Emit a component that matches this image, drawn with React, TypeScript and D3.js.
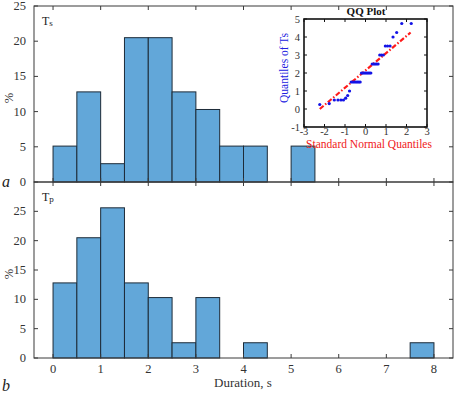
import React from "react"
import * as d3 from "d3"

// histogram bins (left edges, width 0.5 s)
const binStarts = [0, 0.5, 1, 1.5, 2, 2.5, 3, 3.5, 4, 4.5, 5, 5.5, 6, 6.5, 7, 7.5]
const binWidth = 0.5
const tsPercent = [5.1, 12.8, 2.6, 20.5, 20.5, 12.8, 10.3, 5.1, 5.1, 0, 5.1, 0, 0, 0, 0, 0]
const tpPercent = [12.8, 20.5, 25.6, 12.8, 10.3, 2.6, 10.3, 0, 2.6, 0, 0, 0, 0, 0, 0, 2.6]
const xTicks = [0, 1, 2, 3, 4, 5, 6, 7, 8]
const yTicks = [0, 5, 10, 15, 20, 25]

// sorted Ts sample
const tsSample = [
	0.25, 0.3, 0.5, 0.5, 0.5, 0.5, 0.6, 0.75, 1.0, 1.5, 1.5, 1.5, 1.5, 1.5, 1.5,
	1.5, 2.0, 2.0, 2.0, 2.0, 2.0, 2.0, 2.0, 2.0, 2.5, 2.5, 2.5, 2.5, 2.5, 3.0,
	3.0, 3.0, 3.5, 3.5, 3.5, 4.0, 4.25, 4.75, 4.75,
]
const qqRefLine: [number, number][] = [
	[-2.23, 0.0],
	[2.2, 4.25],
]
const qqXTicks = [-3, -2, -1, 0, 1, 2, 3]
const qqYTicks = [-1, 0, 1, 2, 3, 4, 5]

const FONT = "'Liberation Serif', 'Times New Roman', serif"
const AXIS = "#3a3a3a"
const BAR = "#62a7d9"

// inverse normal cdf (Acklam approximation)
function normInv(p: number) {
	const a = [-39.69683028665376, 220.9460984245205, -275.9285104469687, 138.357751867269, -30.66479806614716, 2.506628277459239]
	const b = [-54.47609879822406, 161.5858368580409, -155.6989798598866, 66.80131188771972, -13.28068155288572]
	const c = [-0.007784894002430293, -0.3223964580411365, -2.400758277161838, -2.549732539343734, 4.374664141464968, 2.938163982698783]
	const d = [0.007784695709041462, 0.3224671290700398, 2.445134137142996, 3.754408661907416]
	const pl = 0.02425
	if (p < pl) {
		const q = Math.sqrt(-2 * Math.log(p))
		return (((((c[0] * q + c[1]) * q + c[2]) * q + c[3]) * q + c[4]) * q + c[5]) / ((((d[0] * q + d[1]) * q + d[2]) * q + d[3]) * q + 1)
	}
	if (p > 1 - pl) {
		const q = Math.sqrt(-2 * Math.log(1 - p))
		return -(((((c[0] * q + c[1]) * q + c[2]) * q + c[3]) * q + c[4]) * q + c[5]) / ((((d[0] * q + d[1]) * q + d[2]) * q + d[3]) * q + 1)
	}
	const q = p - 0.5
	const r = q * q
	return ((((((a[0] * r + a[1]) * r + a[2]) * r + a[3]) * r + a[4]) * r + a[5]) * q) / (((((b[0] * r + b[1]) * r + b[2]) * r + b[3]) * r + b[4]) * r + 1)
}

const left = 34
const right = 453
const x = d3.scaleLinear().domain([-0.4, 8.4]).range([left, right])

function Panel({ top, bottom, yMax, values, name, sub, showLabels }: any) {
	const y = d3.scaleLinear().domain([0, yMax]).range([bottom, top])
	const tk = 4
	return (
		<g>
			{binStarts.map((b, i) =>
				values[i] > 0 ? (
					<rect
						key={i}
						x={x(b)}
						y={y(values[i])}
						width={x(b + binWidth) - x(b)}
						height={y(0) - y(values[i])}
						fill={BAR}
						stroke="#1d2b38"
						strokeWidth={1}
					/>
				) : null
			)}
			<rect x={left} y={top} width={right - left} height={bottom - top} fill="none" stroke={AXIS} strokeWidth={1} />
			{xTicks.map((t) => (
				<g key={"x" + t}>
					<line x1={x(t)} x2={x(t)} y1={bottom} y2={bottom - tk} stroke={AXIS} />
					<line x1={x(t)} x2={x(t)} y1={top} y2={top + tk} stroke={AXIS} />
					{showLabels && (
						<text x={x(t)} y={373} textAnchor="middle" fontSize={12.5} fill="#333">
							{t}
						</text>
					)}
				</g>
			))}
			{yTicks.map((t) => (
				<g key={"y" + t}>
					<line x1={left} x2={left + tk} y1={y(t)} y2={y(t)} stroke={AXIS} />
					<line x1={right} x2={right - tk} y1={y(t)} y2={y(t)} stroke={AXIS} />
					<text x={26} y={y(t) + 4} textAnchor="end" fontSize={12.5} fill="#333">
						{t}
					</text>
				</g>
			))}
			<text x={42} y={top + 19} fontSize={12} fill="#222">
				{name}
				<tspan fontSize={9} dy={1}>
					{sub}
				</tspan>
			</text>
			<text
				transform={`translate(13,${(top + bottom) / 2 + 4}) rotate(-90)`}
				textAnchor="middle"
				fontSize={12.5}
				fill="#333">
				%
			</text>
		</g>
	)
}

function QQInset() {
	const qx = d3.scaleLinear().domain([-3, 3]).range([304, 427])
	const qy = d3.scaleLinear().domain([-1, 5]).range([127, 19])
	const n = tsSample.length
	const pts = tsSample.map((v, i) => [normInv((i + 0.5) / n), v])
	const line = d3
		.line<[number, number]>()
		.x((d) => qx(d[0]))
		.y((d) => qy(d[1]))
	const tk = 3
	return (
		<g>
			<rect x={304} y={19} width={123} height={108} fill="#fff" />
			<path d={line(qqRefLine) || ""} stroke="#ff1a1a" strokeWidth={2.2} strokeDasharray="5,2,1.5,2" fill="none" />
			{pts.map((p, i) => (
				<circle key={i} cx={qx(p[0])} cy={qy(p[1])} r={1.6} fill="#1414e6" />
			))}
			<rect x={304} y={19} width={123} height={108} fill="none" stroke="#111" strokeWidth={1.6} />
			{qqXTicks.map((t) => (
				<g key={"qx" + t}>
					<line x1={qx(t)} x2={qx(t)} y1={127} y2={127 - tk} stroke="#111" />
					<line x1={qx(t)} x2={qx(t)} y1={19} y2={19 + tk} stroke="#111" />
					<text x={qx(t)} y={134.5} textAnchor="middle" fontSize={10.5} fill="#333">
						{t}
					</text>
				</g>
			))}
			{qqYTicks.map((t) => (
				<g key={"qy" + t}>
					<line x1={304} x2={304 + tk} y1={qy(t)} y2={qy(t)} stroke="#111" />
					<line x1={427} x2={427 - tk} y1={qy(t)} y2={qy(t)} stroke="#111" />
					<text x={300} y={qy(t) + 4} textAnchor="end" fontSize={10.5} fill="#333">
						{t}
					</text>
				</g>
			))}
			<text x={366} y={15} textAnchor="middle" fontSize={11} fontWeight="bold" fill="#111">
				QQ Plot
			</text>
			<text
				transform="translate(288,68) rotate(-90)"
				textAnchor="middle"
				fontSize={11.5}
				fill="#2020e0">
				Quantiles of Ts
			</text>
			<text x={369} y={147.5} textAnchor="middle" fontSize={11.5} fill="#f02020">
				Standard Normal Quantiles
			</text>
		</g>
	)
}

export default function App() {
	return (
		<svg
			width={474}
			height={395}
			style={{ position: "absolute", left: 0, top: 0, background: "#fff" }}
			fontFamily={FONT}>
			<Panel top={6} bottom={182} yMax={25} values={tsPercent} name="T" sub="s" showLabels={false} />
			<Panel top={182} bottom={358} yMax={30} values={tpPercent} name="T" sub="p" showLabels={true} />
			<QQInset />
			<text x={243} y={387} textAnchor="middle" fontSize={13} fill="#333">
				Duration, s
			</text>
			<text x={2} y={187} fontSize={16} fontStyle="italic" fill="#222">
				a
			</text>
			<text x={2} y={391} fontSize={16} fontStyle="italic" fill="#222">
				b
			</text>
		</svg>
	)
}
